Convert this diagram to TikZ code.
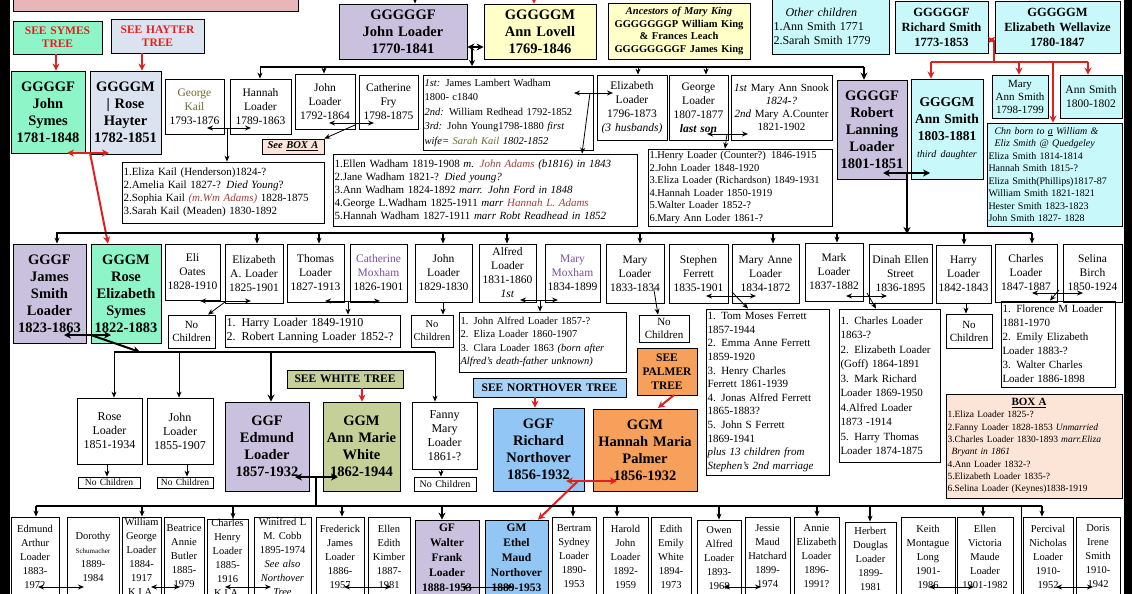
\documentclass[tikz,border=0pt]{standalone}
\usepackage{fontspec}
\setmainfont{Liberation Serif}
\usetikzlibrary{arrows.meta}
\definecolor{lav}{HTML}{C9C1DD}
\definecolor{aqua}{HTML}{8EF5C8}
\definecolor{lgb}{HTML}{DCE3F0}
\definecolor{crm}{HTML}{FFFFC8}
\definecolor{cyn}{HTML}{C8F8FA}
\definecolor{blu}{HTML}{92C6F5}
\definecolor{nbl}{HTML}{A9D2F7}
\definecolor{org}{HTML}{F6A05C}
\definecolor{olb}{HTML}{C5CF98}
\definecolor{pch}{HTML}{FCE4D6}
\definecolor{pnk}{HTML}{E8B5B8}
\definecolor{olv}{HTML}{6B6B2A}
\definecolor{prp}{HTML}{7A4FA0}
\definecolor{brn}{HTML}{A0403A}
\definecolor{rd}{HTML}{E02020}
\newcommand\bx[7]{\pgfmathsetmacro\bw{#4-#2}\pgfmathsetmacro\bh{#5-#3}\pgfmathsetmacro\tw{#4-#2-3}%
\node[bx,minimum width=\bw pt,minimum height=\bh pt,text width=\tw pt,#6] (#1) at ({(#2+#4)/2},{(#3+#5)/2}) {#7};}
\tikzset{
bx/.style={draw,line width=0.8pt,inner sep=0pt,align=center,font=\fontsize{12}{14}\selectfont,execute at begin node={\exhyphenpenalty=10000 \hyphenpenalty=10000 \hbadness=10000 \hfuzz=20pt }},
r2/.style={font=\fontsize{11.5}{14}\selectfont},
big/.style={font=\bfseries\fontsize{14.5}{17}\selectfont},
lst/.style={align=left},
l11/.style={font=\fontsize{11}{13}\selectfont},
cpl/.style={{Stealth[length=6pt,width=5pt]}-{Stealth[length=6pt,width=5pt]},line width=1pt},
tcpl/.style={{Stealth[length=7pt,width=7pt]}-{Stealth[length=7pt,width=7pt]},line width=2pt},
dn/.style={-{Stealth[length=6pt,width=5pt]},line width=0.8pt},
tdn/.style={-{Stealth[length=7pt,width=7pt]},line width=2pt},
bar/.style={line width=2pt},
rarr/.style={-{Stealth[length=7pt,width=7pt]},line width=2pt,rd},
rcpl/.style={{Stealth[length=7pt,width=7pt]}-{Stealth[length=7pt,width=7pt]},line width=2pt,rd},
}
\begin{document}
\begin{tikzpicture}[x=1pt,y=-1pt]
\useasboundingbox (0,0) rectangle (1132,594);
\fill[white] (0,0) rectangle (1132,594);
\fill[black] (0,0) rectangle (10,594);
\fill[black] (1124,0) rectangle (1132,594);
% top row
\bx{pink}{13}{-2}{298}{11}{fill=pnk}{}
\bx{symt}{13}{21}{102}{54}{fill=aqua,font=\bfseries\fontsize{11.5}{13}\selectfont,text=rd}{SEE SYMES\\TREE}
\bx{hayt}{111}{19}{204}{53}{fill=lgb,font=\bfseries\fontsize{11.5}{13}\selectfont,text=rd}{SEE HAYTER\\TREE}
\bx{jl}{339}{4}{467}{59}{fill=lav,big}{GGGGGF\\John Loader\\1770-1841}
\bx{al}{484}{4}{596}{59}{fill=crm,big}{GGGGGM\\Ann Lovell\\1769-1846}
\bx{anc}{608}{3}{750}{59}{fill=crm,font=\bfseries\fontsize{10.5}{12.5}\selectfont}{\textit{Ancestors of Mary King}\\GGGGGGGP William King\\\& Frances Leach\\GGGGGGGGF James King}
\bx{oth}{772}{-1}{889}{54}{fill=cyn,lst}{\hspace*{12pt}\textit{Other children}\\1.Ann Smith 1771\\2.Sarah Smith 1779}
\bx{rs}{895}{1}{988}{53}{fill=cyn,font=\bfseries\fontsize{12.5}{15}\selectfont}{GGGGGF\\Richard Smith\\1773-1853}
\bx{ew}{995}{1}{1120}{53}{fill=cyn,font=\bfseries\fontsize{12.5}{15}\selectfont}{GGGGGM\\Elizabeth Wellavize\\1780-1847}
% row 1
\bx{jsy}{11}{71}{85}{153}{fill=aqua,big}{GGGGF\\John\\Symes\\1781-1848}
\bx{rha}{90}{71}{161}{154}{fill=lgb,big}{GGGGM\\| Rose\\Hayter\\1782-1851}
\bx{gk}{165}{79}{224}{134}{r2}{\textcolor{olv}{George\\Kail}\\1793-1876}
\bx{hl}{230}{79}{291}{134}{r2}{Hannah\\Loader\\1789-1863}
\bx{jl2}{295}{74}{355}{129}{r2}{John\\Loader\\1792-1864}
\bx{cf}{359}{75}{418}{129}{r2}{Catherine\\Fry\\1798-1875}
\bx{wad}{423}{75}{593}{150}{lst,font=\fontsize{10.5}{14.5}\selectfont}{\textit{1st:} James Lambert Wadham\\1800- c1840\\\textit{2nd:} William Redhead 1792-1852\\\textit{3rd:} John Young1798-1880 \textit{first}\\\textit{wife=} \textcolor{olv}{\textit{Sarah Kail}} \textit{1802-1852}}
\bx{el}{597}{75}{667}{140}{r2}{Elizabeth\\Loader\\1796-1873\\\textit{(3 husbands)}}
\bx{gl}{669}{75}{728}{140}{r2}{George\\Loader\\1807-1877\\\textbf{\textit{last son}}}
\bx{mas}{731}{75}{832}{140}{l11}{\textit{1st} Mary Ann Snook\\\textit{1824-?}\\\textit{2nd} Mary A.Counter\\1821-1902}
\bx{rll}{837}{80}{907}{179}{fill=lav,big}{GGGGF\\Robert\\Lanning\\Loader\\1801-1851}
\bx{asm}{911}{79}{983}{179}{fill=cyn,font=\bfseries\fontsize{13.5}{17}\selectfont}{GGGGM\\Ann Smith\\1803-1881\\{\normalfont\itshape\fontsize{10}{12}\selectfont third daughter}\\[20pt]}
\bx{mas2}{992}{75}{1048}{118}{fill=cyn,l11}{Mary\\Ann Smith\\1798-1799}
\bx{as2}{1060}{75}{1122}{118}{fill=cyn,r2}{Ann Smith\\1800-1802}
\bx{chn}{987}{123}{1122}{226}{fill=cyn,lst,font=\fontsize{10}{12.5}\selectfont}{\hspace*{6pt}\textit{Chn born to \underline{a} William \&}\\\hspace*{6pt}\textit{Eliz Smith @ Quedgeley}\\Eliza Smith 1814-1814\\Hannah Smith 1815-?\\Eliza Smith(Phillips)1817-87\\William Smith 1821-1821\\Hester Smith 1823-1823\\John Smith 1827- 1828}
\bx{seea}{262}{139}{324}{154}{fill=pch,font=\bfseries\itshape\fontsize{10.5}{12}\selectfont}{See \underline{BOX A}}
\bx{kk}{122}{162}{324}{223}{lst,l11}{1.Eliza Kail (Henderson)1824-?\\2.Amelia Kail 1827-? \textit{Died Young}?\\2.Sophia Kail \textit{\textcolor{brn}{(m.Wm Adams)}} 1828-1875\\3.Sarah Kail (Meaden) 1830-1892}
\bx{wk}{333}{154}{637}{226}{lst,l11}{1.Ellen Wadham 1819-1908 \textit{m. \textcolor{brn}{John Adams} (b1816) in 1843}\\2.Jane Wadham 1821-? \textit{Died young?}\\3.Ann Wadham 1824-1892 \textit{marr. John Ford in 1848}\\4.George L.Wadham 1825-1911 \textit{marr \textcolor{brn}{Hannah L. Adams}}\\5.Hannah Wadham 1827-1911 \textit{marr Robt Readhead in 1852}}
\bx{rk}{648}{149}{832}{226}{lst,font=\fontsize{10.5}{12.5}\selectfont}{1.Henry Loader (Counter?) 1846-1915\\2.John Loader 1848-1920\\3.Eliza Loader (Richardson) 1849-1931\\4.Hannah Loader 1850-1919\\5.Walter Loader 1852-?\\6.Mary Ann Loder 1861-?}
% row 2
\bx{jsl}{13}{244}{86}{343}{fill=lav,big}{GGGF\\James\\Smith\\Loader\\1823-1863}
\bx{res}{91}{244}{161}{343}{fill=aqua,big}{GGGM\\Rose\\Elizabeth\\Symes\\1822-1883}
\bx{eo}{165}{244}{220}{300}{r2}{Eli\\Oates\\1828-1910\\[8pt]}
\bx{eal}{225}{244}{283}{303}{r2}{Elizabeth\\A. Loader\\1825-1901\\[8pt]}
\bx{tl}{287}{244}{344}{302}{r2}{Thomas\\Loader\\1827-1913\\[8pt]}
\bx{cm}{350}{244}{407}{302}{r2}{\textcolor{prp}{Catherine\\Moxham}\\1826-1901\\[8pt]}
\bx{jl3}{415}{244}{472}{302}{r2}{John\\Loader\\1829-1830\\[8pt]}
\bx{afl}{479}{244}{536}{302}{r2}{Alfred\\Loader\\1831-1860\\\textit{1st}}
\bx{mm}{545}{244}{600}{302}{r2}{\textcolor{prp}{Mary\\Moxham}\\1834-1899\\[8pt]}
\bx{ml}{606}{244}{664}{303}{r2}{Mary\\Loader\\1833-1834\\[8pt]}
\bx{sf}{669}{244}{728}{303}{r2}{Stephen\\Ferrett\\1835-1901\\[8pt]}
\bx{mal}{732}{244}{799}{303}{r2}{Mary Anne\\Loader\\1834-1872\\[6pt]}
\bx{mkl}{805}{243}{863}{301}{r2}{Mark\\Loader\\1837-1882\\[8pt]}
\bx{des}{869}{244}{932}{303}{r2}{Dinah Ellen\\Street\\1836-1895\\[6pt]}
\bx{hyl}{936}{245}{991}{303}{r2}{Harry\\Loader\\1842-1843\\[6pt]}
\bx{cl}{995}{244}{1057}{302}{r2}{Charles\\Loader\\1847-1887\\[8pt]}
\bx{sb}{1063}{244}{1122}{302}{r2}{Selina\\Birch\\1850-1924\\[8pt]}
% row 3
\bx{nc1}{168}{315}{215}{348}{l11}{No\\Children}
\bx{tk}{225}{315}{400}{347}{lst}{1. Harry Loader 1849-1910\\2. Robert Lanning Loader 1852-?}
\bx{nc2}{411}{315}{453}{347}{font=\fontsize{10.5}{13}\selectfont}{No\\Children}
\bx{ak}{459}{312}{626}{372}{lst,font=\fontsize{10.5}{13.5}\selectfont}{1. John Alfred Loader 1857-?\\2. Eliza Loader 1860-1907\\3. Clara Loader 1863 \textit{(born after}\\\textit{Alfred's death-father unknown)}}
\bx{nc3}{639}{315}{689}{342}{l11}{No\\Children}
\bx{palt}{637}{348}{697}{395}{fill=org,font=\bfseries\fontsize{11.5}{14}\selectfont}{SEE\\PALMER\\TREE}
\bx{fk}{706}{309}{829}{475}{lst,font=\fontsize{11}{13.6}\selectfont}{1. Tom Moses Ferrett\\1857-1944\\2. Emma Anne Ferrett\\1859-1920\\3. Henry Charles\\Ferrett 1861-1939\\4. Jonas Alfred Ferrett\\1865-1883?\\5. John S Ferrett\\1869-1941\\\textit{plus 13 children from}\\\textit{Stephen's 2nd marriage}}
\bx{mk}{839}{309}{940}{462}{lst,font=\fontsize{11}{14.5}\selectfont}{1. Charles Loader\\1863-?\\2. Elizabeth Loader\\(Goff) 1864-1891\\3. Mark Richard\\Loader 1869-1950\\4.Alfred Loader\\1873 -1914\\5. Harry Thomas\\Loader 1874-1875\\[10pt]}
\bx{nc4}{946}{314}{992}{348}{l11}{No\\Children}
\bx{ck}{1001}{301}{1115}{387}{lst,font=\fontsize{11}{14}\selectfont}{1. Florence M Loader\\1881-1970\\2. Emily Elizabeth\\Loader 1883-?\\3. Walter Charles\\Loader 1886-1898}
\bx{boxa}{946}{394}{1122}{498}{fill=pch,lst,font=\fontsize{9.5}{12.3}\selectfont}{\hspace*{64pt}\textbf{\underline{\fontsize{11}{12}\selectfont BOX A}}\\1.Eliza Loader 1825-?\\2.Fanny Loader 1828-1853 \textit{Unmarried}\\3.Charles Loader 1830-1893 \textit{marr.Eliza}\\\hspace*{4pt}\textit{Bryant in 1861}\\4.Ann Loader 1832-?\\5.Elizabeth Loader 1835-?\\6.Selina Loader (Keynes)1838-1919}
\bx{nort}{473}{378}{626}{397}{fill=nbl,font=\bfseries\fontsize{11.5}{13}\selectfont}{SEE NORTHOVER TREE}
\bx{rn}{493}{408}{584}{491}{fill=blu,big}{GGF\\Richard\\Northover\\1856-1932}
\bx{hmp}{593}{409}{697}{491}{fill=org,big}{GGM\\Hannah Maria\\Palmer\\1856-1932}
\bx{whtt}{287}{370}{403}{388}{fill=olb,font=\bfseries\fontsize{11.5}{13}\selectfont}{SEE WHITE TREE}
\bx{edl}{225}{402}{309}{491}{fill=lav,big}{GGF\\Edmund\\Loader\\1857-1932}
\bx{amw}{323}{402}{400}{491}{fill=olb,big}{GGM\\Ann Marie\\White\\1862-1944}
\bx{fml}{412}{402}{477}{469}{}{Fanny\\Mary\\Loader\\1861-?}
\bx{nc5}{414}{477}{476}{491}{font=\fontsize{10}{12}\selectfont}{No Children}
\bx{rl}{77}{398}{142}{464}{}{Rose\\Loader\\1851-1934}
\bx{jl4}{147}{398}{213}{464}{}{John\\Loader\\1855-1907}
\bx{nc6}{78}{477}{140}{488}{font=\fontsize{9.5}{11}\selectfont}{No Children}
\bx{nc7}{157}{477}{213}{488}{font=\fontsize{9.5}{11}\selectfont}{No Children}
% bottom row
\tikzset{b/.style={font=\fontsize{10.5}{14}\selectfont}}
\bx{b1}{11}{517}{59}{596}{b}{Edmund\\Arthur\\Loader\\1883-\\1972\\[6pt]}
\bx{b2}{67}{517}{119}{596}{b}{Dorothy\\{\fontsize{7}{9}\selectfont Schumacher}\\1889-\\1984\\[34pt]}
\bx{b3}{122}{517}{161}{596}{b}{William\\George\\Loader\\1884-\\1917\\K.I.A.}
\bx{b4}{164}{517}{204}{596}{b}{Beatrice\\Annie\\Butler\\1885-\\1979\\[6pt]}
\bx{b5}{207}{520}{248}{596}{b}{Charles\\Henry\\Loader\\1885-\\1916\\K.I.A.}
\bx{b6}{254}{517}{311}{596}{b}{Winifred L\\M. Cobb\\1895-1974\\\textit{See also}\\\textit{Northover}\\\textit{Tree}}
\bx{b7}{316}{517}{364}{596}{b}{Frederick\\James\\Loader\\1886-\\1957\\[6pt]}
\bx{b8}{368}{517}{410}{596}{b}{Ellen\\Edith\\Kimber\\1887-\\1981\\[6pt]}
\bx{b9}{415}{520}{479}{596}{fill=lav,font=\bfseries\fontsize{11.5}{15}\selectfont}{GF\\Walter\\Frank\\Loader\\1888-1953}
\bx{b10}{485}{520}{548}{596}{fill=blu,font=\bfseries\fontsize{11.5}{15}\selectfont}{GM\\Ethel\\Maud\\Northover\\1889-1953}
\bx{b11}{552}{517}{596}{596}{b}{Bertram\\Sydney\\Loader\\1890-\\1953\\[6pt]}
\bx{b12}{603}{517}{648}{596}{b}{Harold\\John\\Loader\\1892-\\1959\\[6pt]}
\bx{b13}{651}{517}{691}{596}{b}{Edith\\Emily\\White\\1894-\\1973\\[8pt]}
\bx{b14}{697}{520}{741}{596}{b}{Owen\\Alfred\\Loader\\1893-\\1968\\[4pt]}
\bx{b15}{745}{517}{790}{596}{b}{Jessie\\Maud\\Hatchard\\1899-\\1974\\[8pt]}
\bx{b16}{794}{517}{839}{596}{b}{Annie\\Elizabeth\\Loader\\1896-\\1991?\\[6pt]}
\bx{b17}{845}{522}{896}{596}{b}{Herbert\\Douglas\\Loader\\1899-\\1981\\[4pt]}
\bx{b18}{901}{517}{955}{596}{b}{Keith\\Montague\\Long\\1901-\\1986\\[6pt]}
\bx{b19}{957}{517}{1013}{596}{b}{Ellen\\Victoria\\Maude\\Loader\\1901-1982\\[6pt]}
\bx{b20}{1023}{517}{1073}{596}{b}{Percival\\Nicholas\\Loader\\1910-\\1952\\[6pt]}
\bx{b21}{1076}{517}{1120}{596}{b}{Doris\\Irene\\Smith\\1910-\\1942\\[6pt]}
% ---- connectors top
\draw[dn,line width=1.5pt] (415,-2) -- (jl.north-|415,0);
\draw[rarr,line width=1.2pt] (534,-2) -- (al.north-|534,0);
\draw[rarr,line width=1.2pt] (940,-2) -- (rs.north-|940,0);
\draw[rarr,line width=1.2pt] (1030,-2) -- (ew.north-|1030,0);
\draw[tcpl] (jl.east|-0,47) -- (al.west|-0,47);
\draw[-{Stealth[length=6pt,width=6pt]},line width=1.5pt] (472,47) -- (472,66);
\draw[bar] (260,67) -- (864,67);
\draw[dn] (260,67) -- (hl.north-|260,0);
\draw[dn] (324,67) -- (jl2.north-|324,0);
\draw[dn] (638,67) -- (el.north-|638,0);
\draw[dn] (706,67) -- (gl.north-|706,0);
\draw[tdn] (864,67) -- (rll.north-|864,0);
\draw[rarr] (symt.south-|56,0) -- (jsy.north-|56,0);
\draw[rarr] (hayt.south-|142,0) -- (rha.north-|142,0);
\draw[rcpl] (67,153) -- (109,153);
\draw[rarr] (90,153) -- (res.north-|108,0);
\draw[cpl] (207,128) -- (251,128);
\draw[dn] (227,128) -- (kk.north-|227,0);
\draw[cpl] (329,123) -- (374,123);
\draw[dn] (355,125) -- (seea.north east);
\draw[cpl] (574,93) -- (613,93);
\draw[dn] (590,93) -- (wk.north-|582,0);
\draw[cpl] (707,134) -- (748,134);
\draw[dn] (727,134) -- (rk.north-|725,0);
\draw[rcpl] (rs.east|-0,40) -- (ew.west|-0,40);
\draw[rd,line width=2pt] (994,40) -- (994,62);
\draw[rd,line width=2pt] (931,62) -- (1088,62);
\draw[rarr] (931,62) -- (asm.north-|931,0);
\draw[rarr] (1019,62) -- (mas2.north-|1019,0);
\draw[rarr] (1088,62) -- (as2.north-|1088,0);
\draw[rarr] (1053,62) -- (chn.north-|1053,0);
\draw[tcpl] (883,173) -- (930,173);
\draw[bar] (907,173) -- (907,228);
\draw[tdn] (907,200) -- (907,234);
\draw[bar] (56,233) -- (1032,233);
\foreach \xx/\nn in {57/jsl,257/eal,319/tl,443/jl3,507/afl,640/ml,773/mal,837/mkl,964/hyl,1032/cl}
  \draw[dn,line width=1.2pt] (\xx,233) -- (\nn.north-|\xx,0);
% row 2 couples
\draw[cpl] (200,301) -- (251,301);
\draw[dn] (225,302) -- (nc1.north-|208,0);
\draw[cpl] (325,301) -- (380,301);
\draw[dn] (348,301) -- (tk.north-|348,0);
\draw[dn] (443,302) -- (nc2.north-|443,0);
\draw[cpl] (520,300) -- (558,300);
\draw[dn] (540,300) -- (ak.north-|540,0);
\draw[dn] (654,290) -- (nc3.north-|658,0);
\draw[cpl] (706,296) -- (756,296);
\draw[dn] (732,292) -- (fk.north-|748,0);
\draw[cpl] (846,296) -- (887,296);
\draw[dn] (867,293) -- (mk.north-|876,0);
\draw[dn] (966,303) -- (nc4.north-|966,0);
\draw[cpl] (1032,293) -- (1083,293);
\draw[dn] (1059,290) -- (ck.north-|1050,0);
% row 3
\draw[tcpl] (64,335) -- (111,335);
\draw[tdn] (91,335) -- (140,352);
\draw[line width=1.5pt] (114,352) -- (435,352);
\draw[dn] (114,352) -- (rl.north-|114,0);
\draw[dn] (179,352) -- (jl4.north-|179,0);
\draw[tdn] (271,352) -- (edl.north-|271,0);
\draw[dn] (435,352) -- (fml.north-|435,0);
\draw[rarr] (whtt.south-|362,0) -- (amw.north-|362,0);
\draw[rarr] (nort.south-|535,0) -- (rn.north-|535,0);
\draw[rarr] (674,395) -- (658,408);
\draw[rcpl] (566,481) -- (617,481);
\draw[rarr] (578,481) -- (b10.north-|538,0);
\draw[dn] (107,464) -- (nc6.north-|107,0);
\draw[dn] (187,464) -- (nc7.north-|187,0);
\draw[dn] (441,469) -- (nc5.north-|441,0);
\draw[tcpl] (295,477) -- (338,477);
\draw[bar] (316,477) -- (316,506);
\draw[bar] (36,506) -- (1042,506);
\foreach \xx/\nn in {36/b1,142/b3,233/b5,342/b7,573/b11,617/b12,719/b14,817/b16,870/b17,983/b19,1042/b20}
  \draw[dn,line width=1.2pt] (\xx,506) -- (\nn.north-|\xx,0);
\draw[tdn] (442,506) -- (b9.north-|442,0);
\draw[line width=0.8pt] (1021,506) -- (1021,594);
\foreach \a/\b in {38/84,151/180,225/271,344/391,462/513,724/761,929/974,1056/1093}
  \draw[cpl] (\a,587) -- (\b,587);
\end{tikzpicture}
\end{document}
